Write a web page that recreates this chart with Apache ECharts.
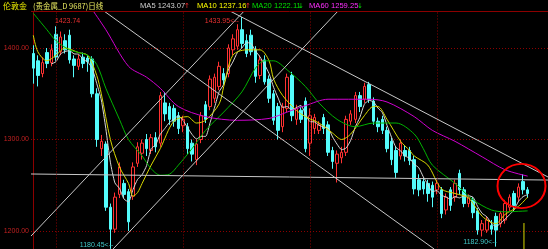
<!DOCTYPE html>
<html>
<head>
<meta charset="utf-8">
<script src="https://cdn.jsdelivr.net/npm/echarts@6/dist/echarts.min.js"></script>
<style>
html, body { margin: 0; padding: 0; background: #000; }
#chart { width: 548px; height: 249px; }
</style>
</head>
<body>
<div id="chart"></div>
<script>
// 日线 OHLC
var opens = [1394, 1386, 1372, 1395, 1384, 1415, 1396, 1408, 1414, 1388,
  1380, 1390, 1389, 1388, 1350, 1290, 1295, 1226, 1202, 1240,
  1252, 1243, 1238, 1274, 1285, 1300, 1288, 1302, 1296, 1340,
  1336, 1334, 1326, 1315, 1314, 1296, 1278, 1300, 1338, 1336,
  1345, 1358, 1372, 1372, 1398, 1402, 1420, 1408, 1414, 1398,
  1370, 1387, 1366, 1350, 1336, 1314, 1334, 1370, 1322, 1332,
  1342, 1296, 1312, 1310, 1324, 1316, 1288, 1274, 1280, 1286,
  1320, 1322, 1348, 1344, 1360, 1342, 1320, 1322, 1310, 1298,
  1288, 1282, 1288, 1288, 1278, 1256, 1254, 1252, 1250, 1245,
  1245, 1223, 1245, 1237, 1263, 1245, 1230, 1234, 1222, 1201,
  1201, 1206, 1216, 1208, 1212, 1226, 1241, 1237, 1254, 1245];
var closes = [1378, 1370, 1384, 1383, 1398, 1390, 1412, 1398, 1387, 1381,
  1388, 1383, 1385, 1350, 1300, 1298, 1226, 1202, 1237, 1270,
  1240, 1210, 1270, 1292, 1296, 1290, 1302, 1292, 1348, 1328,
  1322, 1320, 1312, 1322, 1290, 1284, 1295, 1326, 1322, 1366,
  1368, 1380, 1365, 1400, 1410, 1420, 1405, 1394, 1396, 1369,
  1387, 1363, 1345, 1321, 1310, 1336, 1368, 1326, 1334, 1322,
  1290, 1326, 1324, 1316, 1312, 1286, 1276, 1284, 1286, 1322,
  1328, 1348, 1336, 1358, 1344, 1320, 1314, 1310, 1290, 1278,
  1264, 1296, 1282, 1277, 1246, 1245, 1246, 1241, 1237, 1252,
  1219, 1237, 1228, 1252, 1245, 1230, 1237, 1220, 1201, 1208,
  1212, 1202, 1201, 1219, 1230, 1237, 1228, 1248, 1245, 1241];
var lows = [1361, 1358, 1368, 1378, 1380, 1386, 1392, 1394, 1383, 1368,
  1376, 1378, 1374, 1346, 1292, 1282, 1222, 1180.45, 1198, 1236,
  1236, 1200, 1234, 1270, 1278, 1282, 1284, 1286, 1292, 1320,
  1316, 1314, 1306, 1308, 1284, 1276, 1272, 1296, 1318, 1332,
  1340, 1354, 1360, 1368, 1392, 1398, 1400, 1390, 1392, 1362,
  1366, 1360, 1340, 1316, 1300, 1308, 1330, 1320, 1316, 1318,
  1286, 1282, 1306, 1306, 1306, 1282, 1268, 1253, 1274, 1282,
  1316, 1318, 1330, 1340, 1340, 1316, 1308, 1306, 1286, 1272,
  1258, 1278, 1276, 1272, 1240, 1238, 1240, 1232, 1226, 1240,
  1214, 1218, 1222, 1232, 1240, 1226, 1226, 1214, 1196, 1194,
  1198, 1196, 1182.90, 1204, 1208, 1222, 1224, 1232, 1240, 1236];
var highs = [1403, 1392, 1390, 1400, 1404, 1423.74, 1418, 1415, 1420, 1392,
  1393, 1395, 1392, 1391, 1356, 1305, 1298, 1230, 1242, 1275,
  1256, 1246, 1275, 1297, 1300, 1306, 1306, 1308, 1352, 1352,
  1340, 1338, 1330, 1326, 1318, 1300, 1300, 1330, 1342, 1370,
  1372, 1385, 1378, 1404, 1415, 1426, 1433.95, 1415, 1420, 1402,
  1392, 1392, 1370, 1354, 1340, 1340, 1372, 1374, 1338, 1336,
  1346, 1334, 1328, 1320, 1328, 1320, 1292, 1288, 1292, 1326,
  1332, 1352, 1352, 1362, 1363, 1346, 1324, 1326, 1314, 1302,
  1292, 1300, 1294, 1292, 1282, 1262, 1258, 1256, 1254, 1256,
  1248, 1241, 1248, 1256, 1267, 1248, 1240, 1237, 1225, 1212,
  1216, 1212, 1220, 1222, 1234, 1240, 1244, 1252, 1262, 1248];

// moving averages: [bar index, value]
var ma10Pts = [[0, 1414], [1, 1396], [3, 1386], [5, 1392], [7, 1400], [10, 1395], [12, 1392],
  [14, 1370], [15, 1350], [17, 1300], [19, 1270], [21, 1252], [22, 1238], [23, 1242], [24, 1252],
  [26, 1272], [28, 1290], [31, 1320], [34, 1325], [36, 1318], [38, 1321], [41, 1339], [42, 1358],
  [44, 1392], [47, 1398], [50, 1398], [52, 1386], [53, 1366], [55, 1348], [58, 1332], [60, 1325],
  [63, 1318], [66, 1307], [68, 1300], [70, 1306], [73, 1326], [75, 1336], [76, 1336], [78, 1322],
  [81, 1298], [83, 1288], [84, 1282], [87, 1272], [90, 1246], [93, 1241], [96, 1236], [99, 1216],
  [102, 1208], [104, 1218], [107, 1227], [109, 1237]];
var ma20Pts = [[0, 1438], [3, 1420], [5, 1408], [8, 1398], [12, 1392], [14, 1382], [16, 1356],
  [19, 1322], [21, 1300], [24, 1282], [26, 1268], [28, 1261], [30, 1262], [32, 1272], [35, 1290],
  [38, 1310], [42, 1330], [46, 1352], [49, 1378], [51, 1386], [53, 1386], [56, 1376], [60, 1358],
  [63, 1340], [67, 1322], [71, 1314], [75, 1318], [80, 1318], [84, 1306], [86, 1290], [88, 1272],
  [93, 1252], [97, 1234], [101, 1223], [104, 1221], [109, 1222]];
var ma60Pts = [[13, 1442], [16, 1420], [21, 1380], [25, 1368], [28, 1356], [32, 1336], [38, 1325],
  [45, 1321], [52, 1323], [56, 1330], [60, 1337], [65, 1344], [74, 1344], [78, 1341], [84, 1325],
  [88, 1310], [93, 1298], [99, 1281], [104, 1267], [109, 1260]];

var maNames = ['MA5', 'MA10', 'MA20', 'MA60'];
var maLast = ['1243.07', '1237.16', '1222.11', '1259.25'];
var maUp = [true, true, false, false];

// marked extremes: bar index, price, arrow
var markIdx = [5, 46, 17, 102];
var markPrice = [1423.74, 1433.95, 1180.45, 1182.90];
var markArrow = ['', '<--', '<--', '<--'];

// hand drawn trend lines [bar, price] -> [bar, price]
var trendLines = [
  [[15.6, 1440.4], [88.4, 1180.3]],
  [[43.4, 1440.4], [113.5, 1259.0]],
  [[-0.5, 1194.5], [46.5, 1440.4]],
  [[17.6, 1180.3], [67.2, 1440.4]],
  [[-0.5, 1262.3], [113.5, 1255.7]]
];
var gridBars = [5, 33, 61, 89];
var padBars = 4;

var days = [];
for (var i = 0; i < opens.length + padBars; i++) days.push(String(i + 1));

var kData = opens.map(function (o, i) { return [o, closes[i], lows[i], highs[i]]; });

var ma5 = closes.map(function (c, i) {
  if (i < 4) return '-';
  var s = 0;
  for (var j = i - 4; j <= i; j++) s += closes[j];
  return +(s / 5).toFixed(2);
});

var smallFont = 'Liberation Sans';
var cnFont = 'Noto Sans CJK SC';

var maColors = ['#d8d8d8', '#d8d800', '#00b400', '#d000d0'];
var maTextColors = ['#d0d0d0', '#ffff00', '#00e000', '#ff30ff'];

var markPoints = markIdx.map(function (idx, k) {
  var isHigh = k < 2;
  var cfg = [
    { align: 'left', offset: [-1, -5] },
    { align: 'right', offset: [-3, 4] },
    { align: 'right', offset: [3, -4] },
    { align: 'right', offset: [1, -5] }
  ][k];
  return {
    coord: [idx, markPrice[k]],
    value: markPrice[k],
    label: {
      show: true,
      position: 'inside',
      formatter: markPrice[k].toFixed(2) + markArrow[k],
      color: isHigh ? '#e83030' : '#40c8c8',
      fontSize: 7,
      fontFamily: smallFont,
      align: cfg.align,
      verticalAlign: 'middle',
      offset: cfg.offset
    }
  };
});

var series = [{
  type: 'candlestick',
  data: kData,
  barWidth: 3,
  itemStyle: {
    color: '#000000',
    color0: '#54fcfc',
    borderColor: '#ff3232',
    borderColor0: '#54fcfc',
    borderWidth: 1
  },
  markPoint: {
    symbol: 'circle',
    symbolSize: 0,
    animation: false,
    data: markPoints
  },
  z: 2
}, {
  type: 'line', name: 'MA5', data: ma5, showSymbol: false, smooth: 0.2,
  lineStyle: { color: maColors[0], width: 1 }, z: 3
}, {
  type: 'line', name: 'MA10', data: ma10Pts, showSymbol: false, smooth: 0.3,
  lineStyle: { color: maColors[1], width: 1 }, z: 3
}, {
  type: 'line', name: 'MA20', data: ma20Pts, showSymbol: false, smooth: 0.3,
  lineStyle: { color: maColors[2], width: 1 }, z: 3
}, {
  type: 'line', name: 'MA60', data: ma60Pts, showSymbol: false, smooth: 0.3,
  lineStyle: { color: maColors[3], width: 1 }, z: 3
}];

trendLines.forEach(function (seg) {
  series.push({
    type: 'line', xAxisIndex: 1, data: seg, showSymbol: false,
    lineStyle: { color: '#c8c8c8', width: 1 }, z: 4, silent: true
  });
});

// yellow tick near the last bar
series.push({
  type: 'line', xAxisIndex: 1, data: [[108.2, 1208.7], [108.2, 1170]], showSymbol: false,
  lineStyle: { color: '#d8d800', width: 1 }, z: 4, silent: true
});

// vertical dotted grid lines
series.push({
  type: 'line', xAxisIndex: 1, data: [], silent: true,
  markLine: {
    symbol: 'none', silent: true, animation: false,
    label: { show: false },
    lineStyle: { color: '#8c0000', type: [1, 2], width: 1 },
    data: gridBars.map(function (b) { return { xAxis: b }; })
  }
});

var texts = [
  { type: 'text', x: 3, y: 6, style: { text: '伦敦金', fill: '#f0f000', font: '8px "' + cnFont + '"', verticalAlign: 'middle' } },
  { type: 'text', x: 33, y: 6, style: { text: '(贵金属_D 9687)日线', fill: '#e8e860', font: '7.5px "' + cnFont + '"', verticalAlign: 'middle' } }
];
var maX = [140, 197, 252, 309];
var arrowX = [184, 245, 298, 357];
maNames.forEach(function (n, k) {
  texts.push({ type: 'text', x: maX[k], y: 6, style: { text: n + ' ' + maLast[k], fill: maTextColors[k], font: '7.6px "' + smallFont + '"', verticalAlign: 'middle' } });
  texts.push({ type: 'text', x: arrowX[k], y: 6, style: { text: maUp[k] ? '↑' : '↓', fill: maUp[k] ? '#ff3030' : '#00e000', font: '7px "DejaVu Sans"', verticalAlign: 'middle' } });
});

var chart = echarts.init(document.getElementById('chart'), null, { renderer: 'canvas' });
chart.setOption({
  backgroundColor: '#000000',
  animation: false,
  grid: { left: 31, right: 0, top: -43.5, bottom: -73.5, outerBoundsMode: 'none', containLabel: false },
  xAxis: [{
    type: 'category', data: days, boundaryGap: true,
    axisLine: { show: false }, axisTick: { show: false }, axisLabel: { show: false },
    splitLine: { show: false }
  }, {
    type: 'value', min: -0.5, max: 113.5, show: false
  }],
  yAxis: {
    type: 'value', min: 1100, max: 1500, interval: 100,
    axisLine: { show: true, lineStyle: { color: '#8c0000', width: 1 } },
    axisTick: { show: false },
    axisLabel: {
      color: '#c02020', fontSize: 7, fontFamily: smallFont, margin: 2,
      formatter: function (v) { return v.toFixed(2); }
    },
    splitLine: { show: true, lineStyle: { color: '#8c0000', type: [1, 2], width: 1 } }
  },
  series: series,
  graphic: [
    { type: 'rect', z: 100, shape: { x: 0, y: 0, width: 548, height: 11 }, style: { fill: '#000000' } },
    { type: 'line', z: 101, shape: { x1: 31, y1: 11.5, x2: 548, y2: 11.5 }, style: { stroke: '#8c0000', lineWidth: 1 } },
    { type: 'circle', z: 101, x: 521.5, y: 186, scaleY: 0.92, shape: { cx: 0, cy: 0, r: 24 }, style: { fill: 'none', stroke: '#ff0000', lineWidth: 2 } }
  ].concat(texts.map(function (t) { t.z = 102; return t; }))
});
</script>
</body>
</html>
